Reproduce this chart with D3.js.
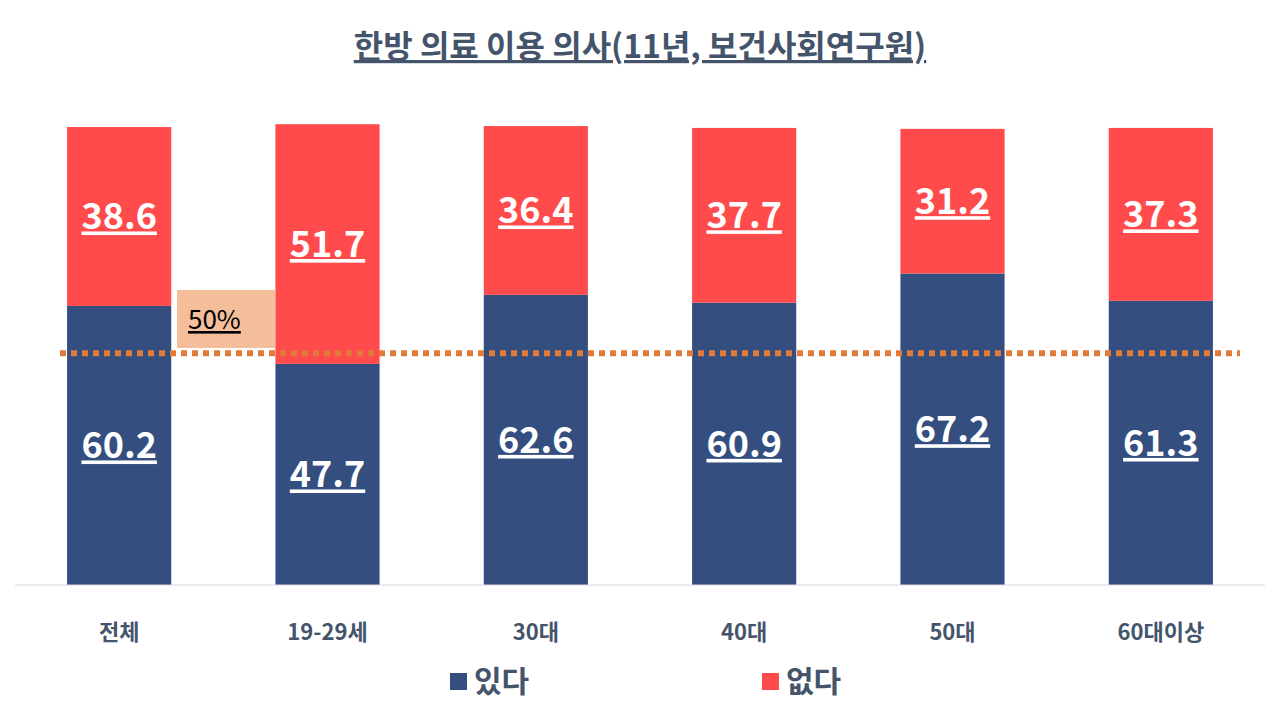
<!DOCTYPE html>
<html><head><meta charset="utf-8">
<script src="https://cdn.jsdelivr.net/npm/d3@7.9.0/dist/d3.min.js"></script>
<style>body{margin:0;background:#fff}text{font-family:"Noto Sans CJK KR","Noto Sans",sans-serif}</style>
</head><body>
<svg id="chart" width="1280" height="720"></svg>
<script>
const categories = ["전체", "19-29세", "30대", "40대", "50대", "60대이상"];
const yes = [60.2, 47.7, 62.6, 60.9, 67.2, 61.3];
const no = [38.6, 51.7, 36.4, 37.7, 31.2, 37.3];
const seriesNames = ["있다", "없다"];
const colors = ["#344E7F", "#FF4B4B"];
const refValue = 50;

const svg = d3.select("#chart");
const x = d3.scaleBand().domain(categories).range([15, 1265]).paddingInner(0.5).paddingOuter(0.25);
const y = d3.scaleLinear().domain([0, 98.8]).range([585, 127]);

svg.append("text").attr("x", 640).attr("y", 58).attr("text-anchor", "middle")
  .attr("font-size", 32).attr("font-weight", "bold").attr("fill", "#44546A")
  .attr("text-decoration", "underline").text("한방 의료 이용 의사(11년, 보건사회연구원)");

const rows = categories.map((c, i) => ({c, yes: yes[i], no: no[i]}));

rows.forEach(d => {
  const bx = x(d.c), w = x.bandwidth();
  svg.append("rect").attr("x", bx).attr("width", w).attr("y", y(d.yes)).attr("height", y(0) - y(d.yes)).attr("fill", colors[0]);
  svg.append("rect").attr("x", bx).attr("width", w).attr("y", y(d.yes + d.no)).attr("height", y(d.yes) - y(d.yes + d.no)).attr("fill", colors[1]);
  [[d.yes / 2, d.yes], [d.yes + d.no / 2, d.no]].forEach(([v, lab]) => {
    svg.append("text").attr("x", bx + w / 2).attr("y", y(v) + 13).attr("text-anchor", "middle")
      .attr("font-size", 36).attr("font-weight", "bold").attr("fill", "#fff")
      .attr("text-decoration", "underline").text(lab.toFixed(1));
  });
  svg.append("text").attr("x", bx + w / 2).attr("y", 640).attr("text-anchor", "middle")
    .attr("font-size", 22).attr("font-weight", "bold").attr("fill", "#44546A").text(d.c);
});

svg.append("line").attr("x1", 15).attr("x2", 1265).attr("y1", y(0)).attr("y2", y(0)).attr("stroke", "#d9d9d9");

svg.append("line").attr("x1", 60).attr("x2", 1240).attr("y1", y(refValue)).attr("y2", y(refValue))
  .attr("stroke", "#E07B39").attr("stroke-width", 6).attr("stroke-dasharray", "6 5");
svg.append("rect").attr("x", 177).attr("y", 290).attr("width", 98).attr("height", 58).attr("fill", "#F5BE9B");
svg.append("text").attr("x", 188).attr("y", 329).attr("font-size", 26).attr("fill", "#000")
  .attr("text-decoration", "underline").text(refValue + "%");

const lx = [450, 762];
seriesNames.forEach((s, i) => {
  svg.append("rect").attr("x", lx[i]).attr("y", 673).attr("width", 17).attr("height", 17).attr("fill", colors[i]);
  svg.append("text").attr("x", lx[i] + 24).attr("y", 692).attr("font-size", 30).attr("font-weight", "bold")
    .attr("fill", "#44546A").text(s);
});
</script>
</body></html>
